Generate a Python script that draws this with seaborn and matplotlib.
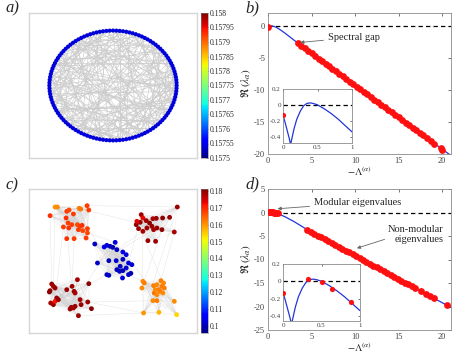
import numpy as np
import matplotlib
matplotlib.use("Agg")
import matplotlib.pyplot as plt
import seaborn as sns
from matplotlib.collections import LineCollection
from matplotlib.colors import Normalize
from matplotlib.cm import ScalarMappable

# ---------------- datos ----------------
# panel a: red en anillo
ring_n = 120
ring_value = 0.15754
ring_edges = [(0, 57), (1, 34), (2, 88), (3, 61), (4, 102), (5, 17), (6, 73), (7, 45), (8, 96), (9, 30),
              (10, 66), (11, 112), (12, 51), (13, 84), (14, 39), (15, 70), (16, 99), (17, 53), (18, 108),
              (19, 27), (20, 79), (21, 44), (22, 91), (23, 63), (24, 115), (25, 48), (26, 82), (27, 59),
              (28, 104), (29, 71), (30, 93), (31, 55), (32, 117), (33, 76), (34, 89), (35, 62), (36, 101),
              (37, 80), (38, 113), (39, 67), (40, 94), (41, 3), (42, 86), (43, 109), (44, 65), (45, 98),
              (46, 12), (47, 75), (48, 106), (49, 22), (50, 87), (51, 110), (52, 8), (53, 95), (54, 119),
              (55, 78), (56, 14), (57, 100), (58, 36), (59, 111), (60, 5), (61, 90), (62, 25), (63, 118),
              (64, 41), (65, 97), (66, 19), (67, 105), (68, 33), (69, 114), (70, 2), (71, 92), (72, 28),
              (73, 107), (74, 10), (75, 116), (76, 38), (77, 103), (78, 16), (79, 85), (80, 23), (81, 118),
              (82, 47), (83, 0), (84, 31), (85, 60), (86, 9), (87, 42), (88, 68), (89, 20), (90, 54),
              (91, 6), (92, 37), (93, 74), (94, 15), (95, 29), (96, 58), (97, 4), (98, 26), (99, 49),
              (100, 13), (101, 64), (102, 35), (103, 1), (104, 50), (105, 21), (106, 72), (107, 40),
              (108, 11), (109, 56), (110, 32), (111, 83), (112, 18), (113, 69), (114, 43), (115, 7),
              (116, 81), (117, 24), (118, 52), (119, 77),
              (0, 41), (2, 19), (4, 66), (6, 95), (8, 53), (10, 117), (12, 78), (14, 101), (16, 44),
              (18, 87), (20, 63), (22, 109), (24, 70), (26, 5), (28, 92), (30, 114), (32, 58), (34, 81),
              (36, 13), (38, 99), (40, 72), (42, 118), (44, 90), (46, 27), (48, 83), (50, 9), (52, 105),
              (54, 31), (56, 76), (58, 111), (60, 21), (62, 97), (64, 1), (66, 107), (68, 40), (70, 115),
              (72, 49), (74, 94), (76, 17), (78, 103), (80, 57), (82, 11), (84, 113), (86, 35), (88, 62),
              (90, 3), (92, 71), (94, 25), (96, 119), (98, 47), (100, 77), (102, 29), (104, 56),
              (106, 15), (108, 84), (110, 43), (112, 68), (114, 7), (116, 91), (118, 37)]
ring_cticks = [0.1575, 0.15755, 0.1576, 0.15765, 0.1577, 0.15775, 0.1578, 0.15785, 0.1579, 0.15795, 0.158]
ring_clabels = ['0.1575', '0.15755', '0.1576', '0.15765', '0.1577', '0.15775', '0.1578',
                '0.15785', '0.1579', '0.15795', '0.158']

tl_x = [165, 172, 237, 242, 261, 266, 150, 200, 207, 220, 198, 204, 190, 206, 232, 240, 246, 262, 262, 258, 200, 222, 248, 235, 215]
tl_y = [97, 97, 101, 103, 93, 106, 123, 110, 106, 118, 130, 145, 157, 160, 150, 155, 152, 162, 175, 190, 192, 192, 168, 165, 150]
tl_v = [0.160, 0.161, 0.162, 0.163, 0.168, 0.168, 0.169, 0.168, 0.167, 0.168, 0.169, 0.168, 0.168,
        0.169, 0.167, 0.168, 0.169, 0.168, 0.167, 0.168, 0.169, 0.168, 0.167, 0.168, 0.168]
tr_x = [531, 508, 487, 468, 458, 423, 428, 420, 408, 415, 428, 440, 448, 455, 460, 470, 485, 443, 466, 522, 410, 438]
tr_y = [97, 128, 130, 131, 132, 120, 130, 143, 150, 162, 170, 160, 145, 155, 165, 160, 165, 198, 200, 172, 140, 138]
tr_v = [0.179, 0.179, 0.180, 0.179, 0.178, 0.179, 0.173, 0.179, 0.180, 0.179, 0.178, 0.179, 0.180,
        0.179, 0.178, 0.179, 0.180, 0.179, 0.179, 0.178, 0.174, 0.179]
cc_x = [284, 312, 320, 330, 345, 338, 350, 368, 378, 326, 292, 348, 368, 385, 395, 350, 358, 368, 378, 360, 320, 326, 367, 385, 392]
cc_y = [208, 217, 212, 215, 203, 218, 225, 232, 240, 258, 265, 258, 254, 265, 270, 285, 290, 288, 280, 275, 300, 302, 310, 300, 296]
cc_v = [0.101, 0.104, 0.103, 0.101, 0.103, 0.100, 0.101, 0.104, 0.103, 0.100, 0.101, 0.102, 0.100,
        0.103, 0.102, 0.100, 0.101, 0.100, 0.102, 0.101, 0.102, 0.101, 0.103, 0.102, 0.100]
bl_x = [155, 160, 150, 148, 165, 216, 232, 266, 222, 225, 200, 170, 152, 160, 165, 175, 214, 210, 220, 225, 243, 240, 263, 274, 235]
bl_y = [328, 335, 348, 352, 340, 335, 315, 327, 350, 355, 345, 370, 385, 390, 380, 375, 398, 403, 400, 395, 390, 375, 382, 402, 423]
bl_v = [0.179, 0.178, 0.179, 0.180, 0.179, 0.179, 0.178, 0.180, 0.179, 0.178, 0.179, 0.179, 0.178,
        0.179, 0.172, 0.179, 0.180, 0.179, 0.178, 0.179, 0.179, 0.178, 0.179, 0.180, 0.179]
br_x = [428, 432, 425, 460, 470, 482, 490, 475, 462, 470, 480, 488, 492, 470, 458, 522, 430, 476, 529, 485, 465]
br_y = [320, 325, 340, 333, 330, 318, 325, 345, 355, 360, 350, 355, 340, 378, 378, 380, 415, 413, 420, 335, 345]
br_v = [0.161, 0.162, 0.161, 0.162, 0.161, 0.162, 0.161, 0.162, 0.163, 0.161, 0.162, 0.161, 0.162,
        0.162, 0.161, 0.161, 0.160, 0.157, 0.154, 0.162, 0.161]
inter_edges = [(6, 72), (4, 25), (19, 47), (23, 51), (0, 73), (30, 60), (44, 102), (25, 113), (45, 115),
               (41, 99), (50, 88), (66, 81), (70, 97), (94, 113), (96, 114), (84, 111), (10, 90), (17, 62),
               (35, 57), (40, 57), (55, 105), (31, 99), (21, 77), (3, 38), (12, 86)]
mod_cticks = [0.10, 0.11, 0.12, 0.13, 0.14, 0.15, 0.16, 0.17, 0.18]
mod_clabels = ['0.1', '0.11', '0.12', '0.13', '0.14', '0.15', '0.16', '0.17', '0.18']

# panel b: espectro de la red en anillo
b_line_x = [0, 0.25, 0.5, 0.75, 1, 1.5, 2, 3, 4, 6, 9, 12, 15, 18, 21]
b_line_y = [0, 0.01, -0.03, -0.12, -0.27, -0.7, -1.2, -2.25, -3.25, -5.25, -8.25, -11.25, -14.25, -17.25, -20.25]
b_red_x = [0.05, 3.4, 3.8, 4.2, 4.6, 5.0, 5.4, 5.8, 6.2, 6.6, 7.0, 7.4, 7.8, 8.2, 8.6, 9.0, 9.4, 9.8, 10.2,
           10.6, 11.0, 11.4, 11.8, 12.2, 12.6, 13.0, 13.4, 13.8, 14.2, 14.6, 15.0, 15.4, 15.8, 16.2,
           16.6, 17.0, 17.4, 17.8, 18.2, 18.7, 19.1, 19.8, 20.0]
b_red_y = [-0.2, -2.7, -3.1, -3.5, -3.9, -4.3, -4.7, -5.1, -5.5, -5.9, -6.3, -6.7, -7.1, -7.5, -7.9, -8.3,
           -8.7, -9.1, -9.5, -9.9, -10.3, -10.7, -11.1, -11.5, -11.9, -12.3, -12.7, -13.1, -13.5, -13.9,
           -14.3, -14.7, -15.1, -15.5, -15.9, -16.3, -16.7, -17.1, -17.5, -18.0, -18.4, -19.1, -19.3]

# panel d: espectro de la red modular
d_line_x = [0, 0.5, 1, 1.5, 2, 3, 4.5, 7, 10, 13, 16, 19, 21]
d_line_y = [0, -0.02, -0.2, -0.55, -0.95, -1.95, -3.65, -6.2, -9.2, -12.2, -15.2, -18.2, -20.2]
d_red_x = [0.1, 0.2, 0.3, 0.4, 0.5, 0.6, 0.7, 0.8, 0.95, 1.1,
           4.5, 4.9, 5.3, 5.7, 6.1, 6.5, 6.9, 7.3, 7.7, 8.1, 8.5, 8.9, 9.3, 9.7, 10.1, 10.5, 10.9, 11.3,
           11.7, 12.1, 12.5, 12.9, 13.3, 13.7, 14.1, 14.5, 14.9, 15.3, 15.7, 16.1, 16.5, 16.9,
           17.6, 18.1, 18.6, 19.0, 20.5]
d_red_y = [0.05, 0.1, 0.08, 0.12, 0.05, 0.02, -0.02, -0.06, -0.12, -0.2,
           -3.7, -4.1, -4.5, -4.9, -5.3, -5.7, -6.1, -6.5, -6.9, -7.3, -7.7, -8.1, -8.5, -8.9, -9.3, -9.7,
           -10.1, -10.5, -10.9, -11.3, -11.7, -12.1, -12.5, -12.9, -13.3, -13.7, -14.1, -14.5, -14.9,
           -15.3, -15.7, -16.1, -16.8, -17.3, -17.8, -18.2, -19.7]

# inserciones (zoom cerca de 0)
ins_x = [0, 0.03, 0.06, 0.09, 0.11, 0.13, 0.16, 0.2, 0.25, 0.3, 0.35, 0.4, 0.45, 0.5, 0.6, 0.7, 0.8, 0.9, 1.0]
ins_y = [-0.13, -0.22, -0.32, -0.42, -0.5, -0.42, -0.3, -0.18, -0.08, -0.01, 0.02, 0.025, 0.015, 0.0,
         -0.05, -0.11, -0.18, -0.26, -0.34]
ins_b_red_x = [0.0]
ins_b_red_y = [-0.13]
ins_d_red_x = [0.0, 0.33, 0.5, 0.64, 0.88]
ins_d_red_y = [-0.13, 0.03, -0.005, -0.085, -0.24]

# ---------------- estilo ----------------
sns.set_style("white")
plt.rcParams['font.family'] = ['Liberation Serif', 'DejaVu Serif']
plt.rcParams['mathtext.fontset'] = 'stix'
plt.rcParams['axes.unicode_minus'] = False

JET = matplotlib.colormaps['jet']
BLUE = '#2236d8'
W, H = 474, 353
fig = plt.figure(figsize=(W / 100, H / 100), dpi=100)


def box(l, t, r, b):
    return [l / W, 1 - b / H, (r - l) / W, (b - t) / H]


def net_frame(ax):
    ax.set_xticks([])
    ax.set_yticks([])
    for s in ax.spines.values():
        s.set_color('#d6d6d6')
        s.set_linewidth(1.0)


def colorbar(cax, norm, ticks, labels):
    cb = fig.colorbar(ScalarMappable(norm=norm, cmap=JET), cax=cax)
    cb.set_ticks(ticks)
    cb.set_ticklabels(labels)
    cb.ax.tick_params(labelsize=5.5, direction='in', length=1.5, width=0.4, pad=1.5)
    cb.outline.set_linewidth(0.4)
    cb.outline.set_edgecolor('0.5')


def matlab_axes(ax, fs=6):
    ax.tick_params(direction='in', length=2, width=0.5, colors='0.25', labelsize=fs,
                   top=True, right=True, pad=2)
    for s in ax.spines.values():
        s.set_color('0.55')
        s.set_linewidth(0.6)


# ---- panel a ----
ax_a = fig.add_axes(box(29, 13, 197, 158))
ang = np.linspace(0, 2 * np.pi, ring_n, endpoint=False)
rx, ry = np.cos(ang), np.sin(ang)
segs = [[(rx[i], ry[i]), (rx[j], ry[j])] for i, j in ring_edges]
ax_a.add_collection(LineCollection(segs, colors='#cccccc', linewidths=0.45, zorder=1))
norm_a = Normalize(0.1575, 0.158)
sns.scatterplot(x=rx, y=ry, hue=[ring_value] * ring_n, palette=JET, hue_norm=norm_a,
                s=9, linewidth=0, legend=False, ax=ax_a, zorder=3)
ax_a.set_xlim(-1.32, 1.32)
ax_a.set_ylim(-1.32, 1.32)
net_frame(ax_a)
colorbar(fig.add_axes(box(201, 13, 208, 158)), norm_a, ring_cticks, ring_clabels)

# ---- panel c ----
ax_c = fig.add_axes(box(29, 189, 197, 333))
cx = tl_x + tr_x + cc_x + bl_x + br_x
cy = tl_y + tr_y + cc_y + bl_y + br_y
cv = tl_v + tr_v + cc_v + bl_v + br_v
segs = []
start = 0
for grp in (tl_x, tr_x, cc_x, bl_x, br_x):
    idx = range(start, start + len(grp))
    segs += [[(cx[i], cy[i]), (cx[j], cy[j])] for i in idx for j in idx if i < j]
    start += len(grp)
ax_c.add_collection(LineCollection(segs, colors='0.8', linewidths=0.3, alpha=0.3, zorder=1))
segs = [[(cx[i], cy[i]), (cx[j], cy[j])] for i, j in inter_edges]
ax_c.add_collection(LineCollection(segs, colors='0.85', linewidths=0.35, alpha=0.7, zorder=1))
norm_c = Normalize(0.096, 0.181)
sns.scatterplot(x=cx, y=cy, hue=cv, palette=JET, hue_norm=norm_c, s=12, linewidth=0,
                legend=False, ax=ax_c, zorder=3)
ax_c.set_xlim(87, 590)
ax_c.set_ylim(475, 43)
net_frame(ax_c)
colorbar(fig.add_axes(box(201, 189, 208, 333)), norm_c, mod_cticks, mod_clabels)


# ---- paneles b y d ----
def spectrum(ax, lx, ly, px, py, s=24):
    ax.axhline(0, color='k', ls=(0, (3.5, 2.5)), lw=0.9, zorder=1)
    sns.lineplot(x=lx, y=ly, ax=ax, color=BLUE, lw=0.9, sort=False, estimator=None, zorder=2)
    sns.scatterplot(x=px, y=py, ax=ax, color='#ff1010', s=s, linewidth=0, zorder=3)
    ax.set_xlabel('')
    ax.set_ylabel('')


ax_b = fig.add_axes(box(268, 13, 451, 154))
spectrum(ax_b, b_line_x, b_line_y, b_red_x, b_red_y)
ax_b.set_xlim(0, 21)
ax_b.set_ylim(-20, 2)
ax_b.set_xticks([0, 5, 10, 15, 20])
ax_b.set_yticks([0, -5, -10, -15, -20])
ax_b.set_yticklabels(['0', '-5', '-10', '-15', '-20'])
matlab_axes(ax_b)
ax_b.set_xlabel(r'$-\Lambda^{(\alpha)}$', fontsize=7.5, labelpad=0)
ax_b.set_ylabel(r'$\Re\,(\lambda_\alpha)$', fontsize=8, labelpad=1)
ax_b.annotate('Spectral gap', xy=(3.7, -2.6), xytext=(6.9, -1.8), fontsize=7.5, va='center',
              arrowprops=dict(arrowstyle='-|>', color='0.4', lw=0.6, mutation_scale=5,
                              shrinkA=1, shrinkB=0))

ax_d = fig.add_axes(box(268, 189, 451, 330))
spectrum(ax_d, d_line_x, d_line_y, d_red_x, d_red_y)
ax_d.set_xlim(0, 21)
ax_d.set_ylim(-25, 5)
ax_d.set_xticks([0, 5, 10, 15, 20])
ax_d.set_yticks([5, 0, -5, -10, -15, -20, -25])
ax_d.set_yticklabels(['5', '0', '-5', '-10', '-15', '-20', '-25'])
matlab_axes(ax_d)
ax_d.set_xlabel(r'$-\Lambda^{(\alpha)}$', fontsize=7.5, labelpad=0)
ax_d.set_ylabel(r'$\Re\,(\lambda_\alpha)$', fontsize=8, labelpad=1)
ax_d.annotate('Modular eigenvalues', xy=(1.1, 0.8), xytext=(5.3, 2.05), fontsize=7.5, va='center',
              arrowprops=dict(arrowstyle='-|>', color='0.4', lw=0.6, mutation_scale=5,
                              shrinkA=1, shrinkB=0))
ax_d.annotate('Non-modular\neigenvalues', xy=(10.2, -7.6), xytext=(20.15, -4.7), fontsize=7.5,
              ha='right', va='center', multialignment='right', linespacing=1.1,
              arrowprops=dict(arrowstyle='-|>', color='0.4', lw=0.6, mutation_scale=5,
                              shrinkA=0, shrinkB=0, relpos=(0.0, 0.3)))


def inset(rect, px, py, ylim):
    ax = fig.add_axes(rect)
    ax.set_facecolor('white')
    spectrum(ax, ins_x, ins_y, px, py, s=14)
    ax.set_xlim(0, 1)
    ax.set_ylim(*ylim)
    ax.set_xticks([0, 0.5, 1])
    ax.set_xticklabels(['0', '0.5', '1'])
    ax.set_yticks([0.2, 0, -0.2, -0.4])
    ax.set_yticklabels(['0.2', '0', '-0.2', '-0.4'])
    matlab_axes(ax, fs=5)
    ax.tick_params(length=1.5, pad=1.5)
    return ax


inset(box(283, 89, 352, 143), ins_b_red_x, ins_b_red_y, (-0.48, 0.2))
inset(box(283, 264, 360, 321), ins_d_red_x, ins_d_red_y, (-0.46, 0.2))

# etiquetas de panel
for x, y, t in [(5, 12, 'a)'), (245, 12, 'b)'), (5, 189, 'c)'), (245, 188, 'd)')]:
    fig.text(x / W, 1 - y / H, t, style='italic', fontsize=12, va='baseline')

fig.savefig('out.png', dpi=100)
